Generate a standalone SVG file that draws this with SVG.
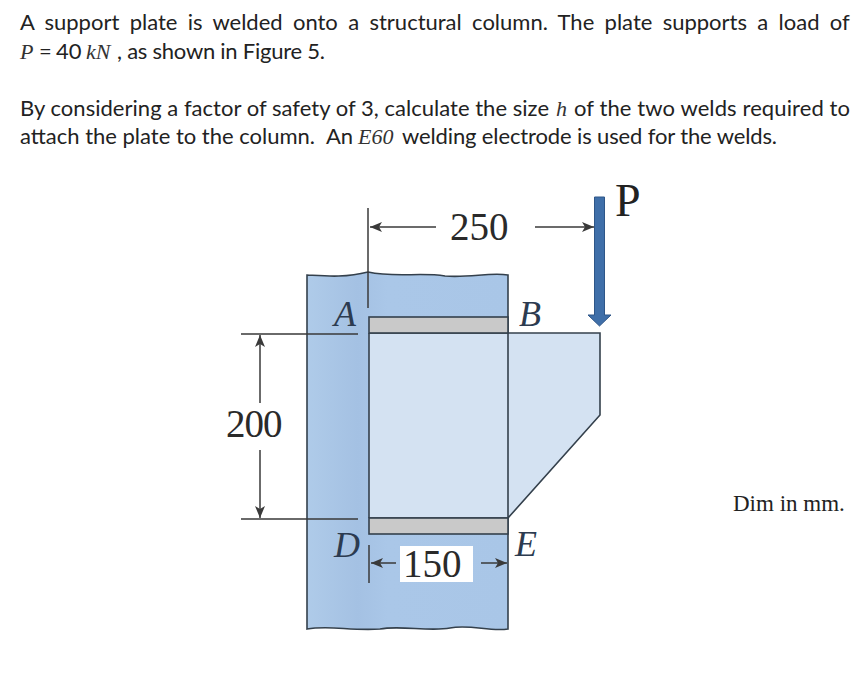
<svg xmlns="http://www.w3.org/2000/svg" width="868" height="675" viewBox="0 0 868 675">
<style>
.t{font-family:"Lato","Open Sans",sans-serif;font-size:22px;fill:#222}
.m{font-family:"Liberation Serif",serif;font-style:italic;font-size:22px;fill:#333}
.d{font-family:"Liberation Serif",serif;font-size:39px;fill:#2a2a2a}
.l{font-family:"Liberation Serif",serif;font-style:italic;font-size:36px;fill:#2c3b50}
.o{stroke:#34404c;stroke-width:1.6}
.n{fill:none}
.w{fill:#c9c9c9}
.k{fill:none;stroke:#3a3a3a;stroke-width:1.5}
</style>
<defs>
<linearGradient id="col" x1="0" x2="1" y1="0" y2="0"><stop offset="0" stop-color="#afcbe9"/><stop offset="0.25" stop-color="#a4c1e3"/><stop offset="0.4" stop-color="#aac7e8"/><stop offset="1" stop-color="#a9c6e7"/></linearGradient>
<marker id="ah" viewBox="0 0 12 10" refX="12" refY="5" markerWidth="12" markerHeight="10" markerUnits="userSpaceOnUse" orient="auto"><path d="M0 0 12 5 0 10 3 5Z" fill="#3a3a3a"/></marker>
</defs>
<rect width="868" height="675" fill="#fff"/>
<g id="problem-text">
<text class="t" x="20" y="30" word-spacing="4.7">A support plate is welded onto a structural column. The plate supports a load of</text>
<text class="m" x="20" y="59">P</text><text class="t" x="39" y="59">=</text><text class="t" x="56" y="59">40</text><text class="m" x="86" y="59">kN</text><text class="t" x="117" y="59" textLength="208">, as shown in Figure 5.</text>
<text class="t" x="20" y="116" textLength="529">By considering a factor of safety of 3, calculate the size</text><text class="m" x="556" y="116">h</text><text class="t" x="574" y="116" textLength="276">of the two welds required to</text>
<text class="t" x="20" y="144" textLength="295">attach the plate to the column.</text><text class="t" x="326" y="144">An</text><text class="m" x="358" y="144">E60</text><text class="t" x="402" y="144" textLength="375">welding electrode is used for the welds.</text>
</g>
<g id="column">
<path d="M307 275C325 276 345 278 368 272C395 278 420 272 445 276C470 278 490 272 508 275V629C490 632 470 624 450 628C430 632 400 625 380 629C350 631 330 625 307 629Z" fill="url(#col)"/>
<path d="M307 275C325 276 345 278 368 272C395 278 420 272 445 276C470 278 490 272 508 275V629C490 632 470 624 450 628C430 632 400 625 380 629C350 631 330 625 307 629Z" class="o n"/>
</g>
<g id="plate">
<path d="M369 333H600V415L508 518H369Z" fill="#d4e2f2"/>
<path d="M369 333V518M369 333H600V415L508 518H369M508 333V518" class="o n"/>
</g>
<g id="weld-top"><rect x="369" y="317" width="139" height="16" class="o w"/></g>
<g id="weld-bottom"><rect x="369" y="518" width="139" height="16" class="o w"/></g>
<g id="connectors">
<path d="M368 208V308" class="k"/>
<path d="M436 227H370" class="k" marker-end="url(#ah)"/>
<path d="M535 227H594" class="k" marker-end="url(#ah)"/>
<path d="M241 334H358M241 519H358" class="k"/>
<path d="M260 403V335" class="k" marker-end="url(#ah)"/>
<path d="M260 450V518" class="k" marker-end="url(#ah)"/>
<path d="M369 545V583" class="k"/>
<path d="M396 563H371" class="k" marker-end="url(#ah)"/>
<path d="M481 563H507" class="k" marker-end="url(#ah)"/>
</g>
<g id="load-arrow"><path d="M594.500 197H604.500V315H611L599.500 326 588 315H594.500Z" fill="#3f6fa9" stroke="#2e5688" stroke-width="1"/></g>
<g id="labels">
<text class="d" x="450" y="240">250</text>
<text class="d" x="226" y="437" letter-spacing="-1">200</text>
<rect x="400" y="546" width="73" height="36" fill="#fff"/>
<text class="d" x="403" y="577">150</text>
<text class="l" x="334" y="326">A</text>
<text class="l" x="519" y="326">B</text>
<text class="l" x="334" y="557">D</text>
<text class="l" x="515" y="556">E</text>
<text x="615" y="216" font-family="Liberation Serif, serif" font-size="46" fill="#222">P</text>
<text x="733" y="511" font-family="Liberation Serif, serif" font-size="23" fill="#222">Dim in mm.</text>
</g>
</svg>
